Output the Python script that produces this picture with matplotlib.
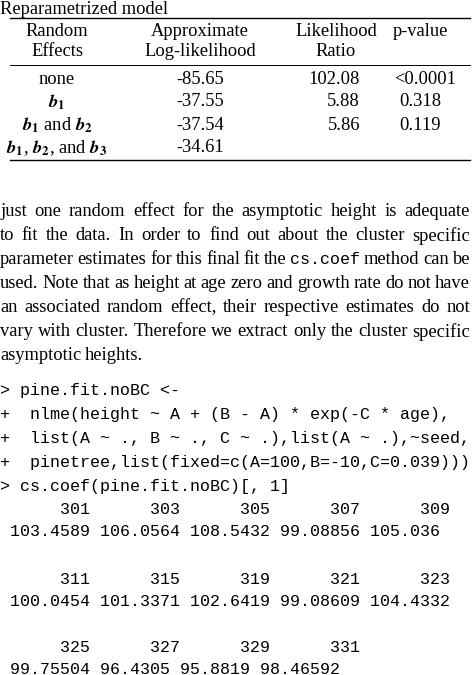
import matplotlib
matplotlib.use("Agg")
import matplotlib.pyplot as plt

plt.rcParams['mathtext.fontset'] = 'stix'
SERIF = 'Liberation Serif'
MONO = 'Liberation Mono'

effects = ["none", r"$\mathbfit{b}_\mathbf{1}$",
           r"$\mathbfit{b}_\mathbf{1}$ and $\mathbfit{b}_\mathbf{2}$",
           r"$\mathbfit{b}_\mathbf{1}$, $\mathbfit{b}_\mathbf{2}$, and $\mathbfit{b}_\mathbf{3}$"]
loglik = ["-85.65", "-37.55", "-37.54", "-34.61"]
lr = ["102.08", "5.88", "5.86", ""]
pvals = ["<0.0001", "0.318", "0.119", ""]

para = [
    "just one random effect for the asymptotic height is adequate",
    "to fit the data.  In order to find out about the cluster specific",
    "parameter estimates for this final fit the |cs.coef| method can be",
    "used. Note that as height at age zero and growth rate do not have",
    "an associated random effect, their respective estimates do not",
    "vary with cluster. Therefore we extract only the cluster specific",
    "asymptotic heights.",
]
code = [
    "> pine.fit.noBC <-",
    "+  nlme(height ~ A + (B - A) * exp(-C * age),",
    "+  list(A ~ ., B ~ ., C ~ .),list(A ~ .),~seed,",
    "+  pinetree,list(fixed=c(A=100,B=-10,C=0.039)))",
    "> cs.coef(pine.fit.noBC)[, 1]",
    "      301      303      305      307      309",
    " 103.4589 106.0564 108.5432 99.08856 105.036",
    "",
    "      311      315      319      321      323",
    " 100.0454 101.3371 102.6419 99.08609 104.4332",
    "",
    "      325      327      329      331",
    " 99.75504 96.4305 95.8819 98.46592",
]

W, H = 474, 675
fig = plt.figure(figsize=(W/100, H/100), dpi=100)
ax = fig.add_axes([0, 0, 1, 1])
ax.set_xlim(0, W); ax.set_ylim(H, 0); ax.axis('off')
fs = 13.3

ax.text(0, 10, "Reparametrized model", fontsize=fs, family=SERIF, va='center')
for y, lw in [(18, 1.0), (65, 0.7), (160, 1.0)]:
    ax.plot([10, 470], [y, y], color='black', lw=lw)
cols = [57, 200, 336, 420]
for x, a, b in zip(cols, ["Random", "Approximate", "Likelihood", "p-value"],
                   ["Effects", "Log-likelihood", "Ratio", ""]):
    ax.text(x, 31, a, fontsize=fs, family=SERIF, ha='center', va='center')
    ax.text(x, 52, b, fontsize=fs, family=SERIF, ha='center', va='center')
rows_y = [80, 102, 125, 148]
for i, y in enumerate(rows_y):
    ax.text(cols[0], y, effects[i], fontsize=fs, family=SERIF, ha='center', va='center')
    ax.text(cols[1], y, loglik[i], fontsize=fs, family=SERIF, ha='center', va='center')
    ax.text(360, y, lr[i], fontsize=fs, family=SERIF, ha='right', va='center')
    ax.text(cols[3] if i else 425, y, pvals[i], fontsize=fs, family=SERIF, ha='center', va='center')

fig.canvas.draw()
r = fig.canvas.get_renderer()
inv = ax.transData.inverted()
def width(t):
    bb = t.get_window_extent(r)
    return inv.transform((bb.x1, 0))[0] - inv.transform((bb.x0, 0))[0]
py = [212, 236, 260, 284, 308, 332, 356]
for li, (line, y) in enumerate(zip(para, py)):
    words = line.split()
    items = []
    for w in words:
        mono = '|' in w
        t = ax.text(0, y, w.replace('|', ''), fontsize=fs if not mono else 12,
                    family=MONO if mono else SERIF, va='center')
        items.append(t)
    ws = [width(t) for t in items]
    if li < len(para) - 1:
        gap = (470 - sum(ws)) / (len(items) - 1)
    else:
        gap = 4
    x = 0
    for t, w in zip(items, ws):
        t.set_x(x); x += w + gap

cy = [390, 414, 438, 462, 486, 510, 532, 556, 580, 602, 626, 648, 670]
for line, y in zip(code, cy):
    ax.text(0, y, line, fontsize=12, family=MONO, va='center')

fig.savefig("out.png", dpi=100)
